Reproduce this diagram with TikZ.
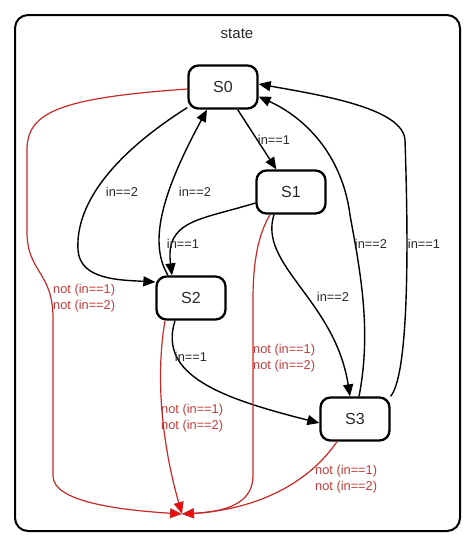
\documentclass[tikz,border=0pt]{standalone}
\usepackage{fontspec}
\setmainfont{Liberation Sans}
\usetikzlibrary{arrows.meta}
\definecolor{redline}{RGB}{200,40,40}
\definecolor{redtext}{RGB}{192,60,60}
\definecolor{txt}{RGB}{40,40,40}
\tikzset{
  stbox/.style={draw=black, line width=2.3pt, rounded corners=10pt, minimum width=69pt, minimum height=43pt, inner sep=0pt, font=\fontsize{16}{18}\selectfont, text=txt},
  edge/.style={draw=black, line width=1.4pt, -{Triangle[length=12pt,width=10pt]}},
  redge/.style={draw=redline, line width=1.2pt, -{Triangle[length=12pt,width=10pt,fill=red]}},
  lbl/.style={inner sep=0pt, font=\fontsize{12.8}{15.5}\selectfont, text=txt},
  rlbl/.style={inner sep=0pt, align=left, font=\fontsize{12.8}{15.5}\selectfont, text=redtext},
}
\begin{document}
\begin{tikzpicture}[x=1pt,y=-1pt]
\useasboundingbox (0,0) rectangle (474,542);
\draw[line width=2pt, rounded corners=13pt] (15,15) rectangle (460,531);
\node[lbl, font=\fontsize{15}{18}\selectfont] (title) at (237,34) {state};

\node[stbox] (s0) at (223,87) {S0};
\node[stbox] (s1) at (291,192) {S1};
\node[stbox] (s2) at (191,298) {S2};
\node[stbox] (s3) at (355,419) {S3};
\coordinate (sink) at (182,514);

% black transitions
\draw[edge] (s0) -- (s1);
\node[lbl] (l01) at (274,140) {in==1};

\draw[edge] (s0.-150) .. controls (120,150) and (75,200) .. (78,250) .. controls (80,280) and (120,280) .. (s2.west |- 0,282);
\node[lbl] (l02) at (122,192) {in==2};

\draw[edge] ([xshift=-23pt]s2.north) .. controls (150,245) and (158,200) .. ([xshift=-16pt]s0.south);
\node[lbl] (l20) at (195,192) {in==2};

\draw[edge] ([yshift=5pt]s1.west |- 0,208) .. controls (200,220) and (165,220) .. ([xshift=-19pt]s2.north);
\node[lbl] (l12) at (183,244) {in==1};

\draw[edge] ([xshift=-17pt]s1.south) .. controls (258,265) and (335,300) .. ([xshift=-5pt]s3.north);
\node[lbl] (l13) at (333,297) {in==2};

\draw[edge] ([xshift=4pt]s3.north) .. controls (372,330) and (360,270) .. (350,215) .. controls (343,160) and (310,120) .. (s0.-15);
\node[lbl] (l30b) at (371,244) {in==2};

\draw[edge] (s3.north east) .. controls (412,370) and (407,200) .. (405,140) .. controls (403,108) and (320,95) .. ([yshift=3pt]s0.east);
\node[lbl] (l30a) at (424,244) {in==1};

\draw[edge] ([xshift=-16pt]s2.south) .. controls (158,375) and (220,398) .. ([yshift=-4pt]s3.west);
\node[lbl] (l23) at (191,357) {in==1};

% red transitions
\draw[redge] ([yshift=-2pt]s0.west) .. controls (60,98) and (27,112) .. (27,150) -- (27,232) .. controls (27,272) and (53,272) .. (53,318) -- (53,476) .. controls (53,502) and (120,510) .. (sink);
\node[rlbl, anchor=west] (r0) at (53,298) {not (in==1)\\not (in==2)};

\draw[redge] ([xshift=-26pt]s2.south) .. controls (154,385) and (165,455) .. (sink);
\node[rlbl, anchor=west] (r2) at (161,418) {not (in==1)\\not (in==2)};

\draw[redge] ([xshift=-21pt]s1.south) .. controls (258,235) and (253,262) .. (253,300) -- (253,476) .. controls (253,505) and (222,512) .. (sink);
\node[rlbl, anchor=west] (r1) at (253,358) {not (in==1)\\not (in==2)};

\draw[redge] ([xshift=-18pt]s3.south) .. controls (305,488) and (250,510) .. (sink);
\node[rlbl, anchor=west] (r3) at (315,479) {not (in==1)\\not (in==2)};
\end{tikzpicture}
\end{document}
